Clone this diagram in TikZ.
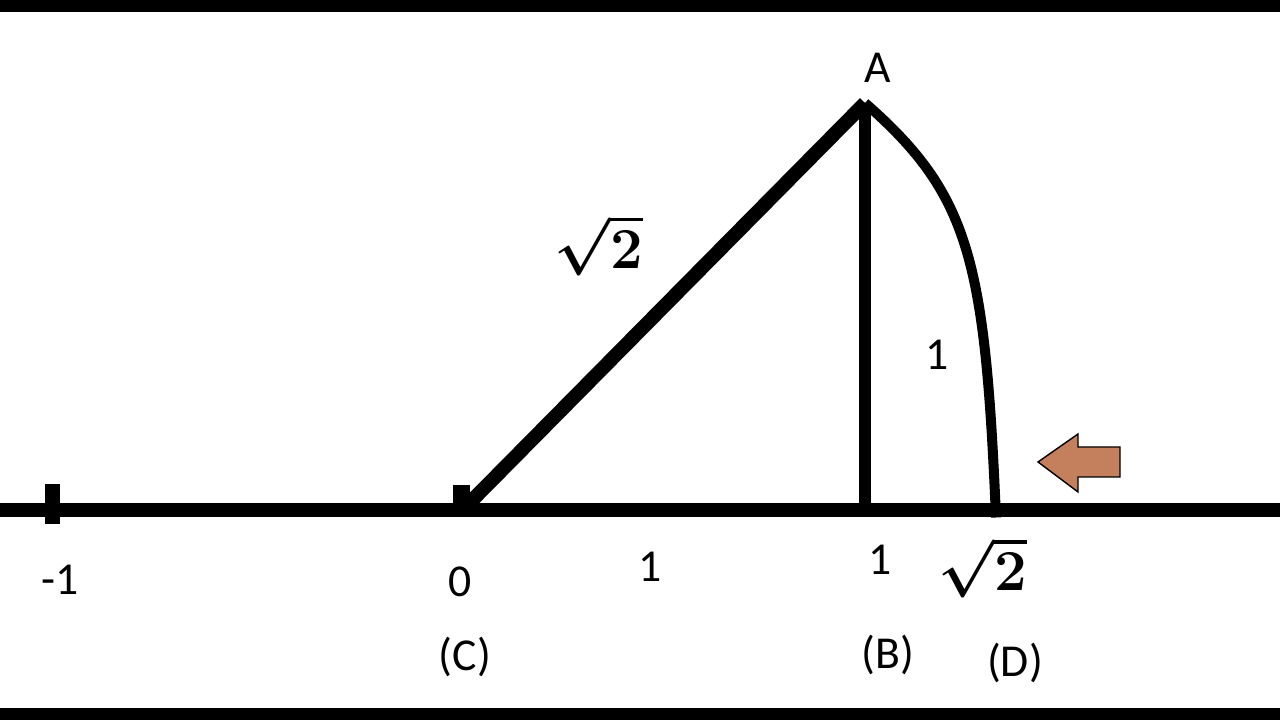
\documentclass[tikz,border=0pt]{standalone}
\usepackage{fix-cm}
\usepackage{fontspec}
\usepackage{amsmath}
\setmainfont{Carlito}
\definecolor{arrowbrown}{RGB}{196,128,92}
\begin{document}
\begin{tikzpicture}[
		lbl/.style={inner sep=0pt,font=\fontsize{26}{0}\selectfont},
		rootlbl/.style={inner sep=0pt,font=\fontsize{33}{0}\selectfont}]
		\useasboundingbox (0,0) rectangle (25.6,14.4);
		\fill[black] (0,14.16) rectangle (25.6,14.4);
		\fill[black] (0,0) rectangle (25.6,0.24);

		% number line
		\draw[line width=0.28cm] (0,4.2) -- (25.6,4.2);
		\fill[black] (0.9,3.92) rectangle (1.2,4.72);
		\fill[black] (9.06,4.2) rectangle (9.4,4.7);

		\coordinate (C) at (9.3,4.25);
		\coordinate (A) at (17.3,12.34);
		\coordinate (B) at (17.3,4.2);
		\coordinate (D) at (19.92,4.05);

		\draw[line width=0.28cm] (C) -- (A);
		\draw[line width=0.24cm] (A) -- (B);
		\draw[line width=0.2cm] (A) .. controls (19.4,10.5) and (19.7,9.2) .. (D);

		% arrow
		\filldraw[fill=arrowbrown,draw=black,line width=0.8pt] (20.76,5.16) -- (21.56,5.72) -- (21.56,5.46) -- (22.4,5.46) -- (22.4,4.86) -- (21.56,4.86) -- (21.56,4.56) -- cycle;

		\node[lbl] at (17.56,13.04) {A};
		\node[rootlbl] at (11.98,9.5) {$\boldsymbol{\sqrt{2}}$};
		\node[lbl] at (18.74,7.3) {1};

		\node[lbl] at (1.2,2.8) {-1};
		\node[lbl] at (9.2,2.76) {0};
		\node[lbl] at (13.0,3.06) {1};
		\node[lbl] at (17.6,3.2) {1};
		\node[rootlbl] at (19.66,3.05) {$\boldsymbol{\sqrt{2}}$};

		\node[lbl] at (9.3,1.26) {(C)};
		\node[lbl] at (17.76,1.3) {(B)};
		\node[lbl] at (20.3,1.14) {(D)};
	\end{tikzpicture}
\end{document}
